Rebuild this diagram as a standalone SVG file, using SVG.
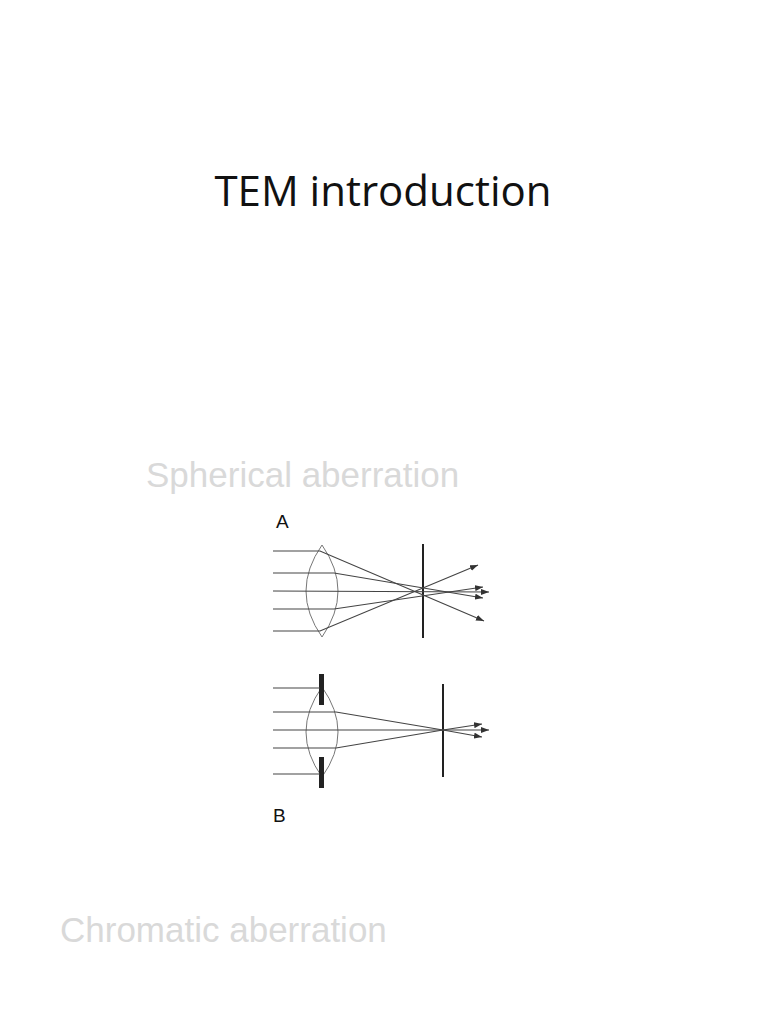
<svg xmlns="http://www.w3.org/2000/svg" width="768" height="1024" viewBox="0 0 768 1024">
<style>
.r{stroke:#444;stroke-width:1.2;fill:none}
.l{stroke:#777;stroke-width:1;fill:none}
.s{stroke:#222;stroke-width:2;fill:none}
.h{font-family:"Liberation Sans",Arial,sans-serif;font-size:35px;fill:#d9d9d9}
.lb{font-family:"Liberation Sans",Arial,sans-serif;font-size:19px;fill:#111}
</style>
<defs><marker id="a" markerWidth="8" markerHeight="6" refX="8" refY="3" orient="auto" markerUnits="userSpaceOnUse"><path d="M0,0L8,3L0,6z" fill="#333"/></marker></defs>
<rect width="768" height="1024" fill="#fff"/>
<text x="383" y="206" text-anchor="middle" font-family="'Open Sans',sans-serif" font-size="42" fill="#111">TEM introduction</text>
<text class="h" x="146" y="487">Spherical aberration</text>
<text class="h" x="60" y="942">Chromatic aberration</text>
<g id="diagramA">
<text class="lb" x="276" y="528">A</text>
<path class="l" d="M322,545 Q290,591 322,637 Q354,591 322,545z"/>
<line class="s" x1="423" y1="544" x2="423" y2="638"/>
<g class="r">
<polyline points="273,551 320,551 484,621" marker-end="url(#a)"/>
<polyline points="273,573 334,573 483,598" marker-end="url(#a)"/>
<polyline points="273,591 489,592" marker-end="url(#a)"/>
<polyline points="273,609 334,609 483,587" marker-end="url(#a)"/>
<polyline points="273,631 320,631 478,565" marker-end="url(#a)"/>
</g>
</g>
<g id="diagramB">
<text class="lb" x="273" y="822">B</text>
<path class="l" d="M322,687 Q290,732 322,777 Q354,732 322,687z"/>
<rect x="319" y="674" width="5" height="31" fill="#222"/>
<rect x="319" y="757" width="5" height="31" fill="#222"/>
<line class="s" x1="443" y1="684" x2="443" y2="777" stroke-width="1.5"/>
<g class="r">
<polyline points="273,688 320,688"/>
<polyline points="273,712 336,712 443,730 482,737" marker-end="url(#a)"/>
<polyline points="273,730 489,730" marker-end="url(#a)"/>
<polyline points="273,748 336,748 443,730 482,724" marker-end="url(#a)"/>
<polyline points="273,774 320,774"/>
</g>
</g>
</svg>
